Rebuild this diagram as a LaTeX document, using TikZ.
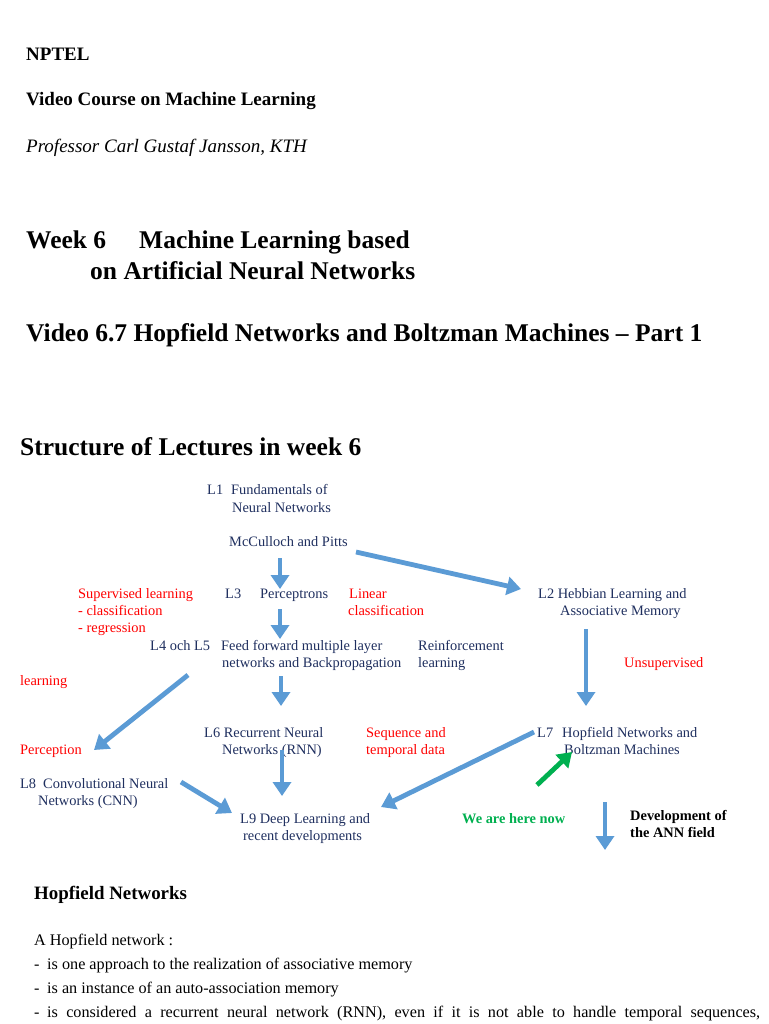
\documentclass[tikz,border=0pt]{standalone}
\usepackage{fontspec}
\setmainfont{Liberation Serif}
\usetikzlibrary{arrows.meta}
\definecolor{navy}{HTML}{1F2F5F}
\definecolor{arrblue}{HTML}{5B9BD5}
\definecolor{redl}{HTML}{FF0000}
\definecolor{greenl}{HTML}{00B050}
\tikzset{
  txt/.style={anchor=west,inner sep=0pt,text height=1.3em,text depth=0pt},
  lbl/.style={txt,text height=1.05em,text=navy,font=\fontsize{14.4}{17}\selectfont},
  red/.style={txt,text height=1.05em,text=redl,font=\fontsize{14.4}{17}\selectfont},
  title/.style={txt,font=\bfseries\fontsize{19}{22}\selectfont},
  big/.style={txt,font=\bfseries\fontsize{25.5}{30}\selectfont},
  body/.style={txt,text height=1.2em,font=\fontsize{16.2}{19}\selectfont},
  barrow/.style={draw=arrblue,line width=4.8pt,-{Triangle[width=18pt,length=14pt]}},
  garrow/.style={draw=greenl,line width=4.8pt,-{Triangle[width=18pt,length=14pt]}},
}
\begin{document}
\begin{tikzpicture}[x=1pt,y=-1pt]
\useasboundingbox[fill=white] (0,0) rectangle (768,1024);
% header
\node[title] (nptel) at (26,54) {NPTEL};
\node[title] (course) at (26,99) {Video Course on Machine Learning};
\node[txt,font=\itshape\fontsize{19}{22}\selectfont] (prof) at (26,146) {Professor Carl Gustaf Jansson, KTH};
\node[big] (week) at (26,242) {Week 6};
\node[big] (weekt) at (139,242) {Machine Learning based};
\node[big] (week2) at (90,273) {on Artificial Neural Networks};
\node[big] (video) at (26,335) {Video 6.7 Hopfield Networks and Boltzman Machines -- Part 1};
\node[big] (struct) at (20,449) {Structure of Lectures in week 6};
% diagram labels
\node[lbl] (l1n) at (207,489) {L1};
\node[lbl] (l1a) at (231,489) {Fundamentals of};
\node[lbl] (l1b) at (232,507) {Neural Networks};
\node[lbl] (mcc) at (229,541) {McCulloch and Pitts};
\node[lbl] (l3n) at (225,593) {L3};
\node[lbl] (l3) at (260,593) {Perceptrons};
\node[lbl] (l4n) at (150,645) {L4 och L5};
\node[lbl] (l4a) at (221,645) {Feed forward multiple layer};
\node[lbl] (l4b) at (222,662) {networks and Backpropagation};
\node[lbl] (rl1) at (418,645) {Reinforcement};
\node[lbl] (rl2) at (418,662) {learning};
\node[lbl] (l2a) at (538,593) {L2 Hebbian Learning and};
\node[lbl] (l2b) at (560,610) {Associative Memory};
\node[red] (sup1) at (78,593) {Supervised learning};
\node[red] (sup2) at (78,610) {- classification};
\node[red] (sup3) at (78,627) {- regression};
\node[red] (lin1) at (349,593) {Linear};
\node[red] (lin2) at (348,610) {classification};
\node[red] (unsup) at (624,662) {Unsupervised};
\node[red] (learn) at (20,680) {learning};
\node[red] (perc) at (20,749) {Perception};
\node[lbl] (l6a) at (204,732) {L6 Recurrent Neural};
\node[lbl] (l6b) at (222,749) {Networks (RNN)};
\node[red] (seq1) at (366,732) {Sequence and};
\node[red] (seq2) at (366,749) {temporal data};
\node[lbl] (l7n) at (537,732) {L7};
\node[lbl] (l7a) at (562,732) {Hopfield Networks and};
\node[lbl] (l7b) at (564,749) {Boltzman Machines};
\node[lbl] (l8n) at (20,783) {L8};
\node[lbl] (l8a) at (43,783) {Convolutional Neural};
\node[lbl] (l8b) at (38,800) {Networks (CNN)};
\node[lbl] (l9a) at (240,818) {L9 Deep Learning and};
\node[lbl] (l9b) at (243,835) {recent developments};
\node[txt,text height=1.05em,text=greenl,font=\bfseries\fontsize{14.4}{17}\selectfont] (here) at (462,818) {We are here now};
\node[txt,text height=1.05em,font=\bfseries\fontsize{14.4}{17}\selectfont] (dev1) at (630,815) {Development of};
\node[txt,text height=1.05em,font=\bfseries\fontsize{14.4}{17}\selectfont] (dev2) at (630,832) {the ANN field};
% arrow coordinates
\coordinate (a1s) at (280,558); \coordinate (a1e) at (280,589);
\coordinate (a2s) at (280,609); \coordinate (a2e) at (280,639);
\coordinate (a3s) at (281,676); \coordinate (a3e) at (281,706);
\coordinate (a4s) at (356,552); \coordinate (a4e) at (521,589);
\coordinate (a5s) at (188,675); \coordinate (a5e) at (94,750);
\coordinate (a6s) at (586,629); \coordinate (a6e) at (586,706);
\coordinate (a7s) at (282,750); \coordinate (a7e) at (282,796);
\coordinate (a8s) at (181,782); \coordinate (a8e) at (232,813);
\coordinate (a9s) at (534,732); \coordinate (a9e) at (381,807);
\coordinate (a10s) at (537,785); \coordinate (a10e) at (572,752);
\coordinate (a11s) at (605,802); \coordinate (a11e) at (605,850);
\draw[barrow] (a1s) -- (a1e);
\draw[barrow] (a2s) -- (a2e);
\draw[barrow] (a3s) -- (a3e);
\draw[barrow] (a4s) -- (a4e);
\draw[barrow] (a5s) -- (a5e);
\draw[barrow] (a6s) -- (a6e);
\draw[barrow] (a7s) -- (a7e);
\draw[barrow] (a8s) -- (a8e);
\draw[barrow] (a9s) -- (a9e);
\draw[garrow] (a10s) -- (a10e);
\draw[barrow] (a11s) -- (a11e);
% lower text
\node[txt,font=\bfseries\fontsize{18.9}{22}\selectfont] (hop) at (34,893) {Hopfield Networks};
\node[body] (b0) at (34,939) {A Hopfield network :};
\node[body] (b1d) at (34,963) {-};
\node[body] (b1) at (47,963) {is one approach to the realization of associative memory};
\node[body] (b2d) at (34,987) {-};
\node[body] (b2) at (47,987) {is an instance of an auto-association memory};
\node[body] (b3d) at (34,1011) {-};
\node[body] (b3) at (47,1011) {\hbox to 713pt{is considered a recurrent neural network (RNN), even if it is not able to handle temporal sequences,}};
\end{tikzpicture}
\end{document}
